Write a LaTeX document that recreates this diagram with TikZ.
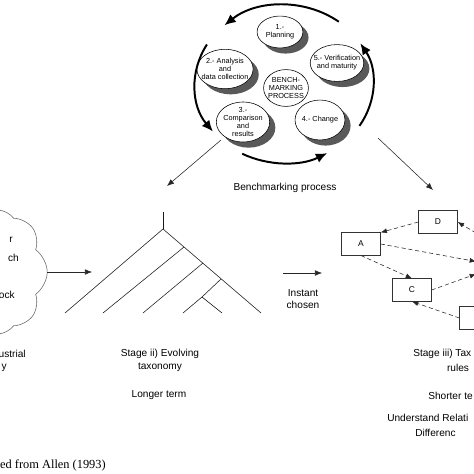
\documentclass[tikz,border=0pt]{standalone}
\usepackage{fontspec}
\setmainfont{Liberation Sans}
\newfontfamily\citefont{Liberation Serif}
\usetikzlibrary{shapes.geometric,shapes.symbols,arrows.meta,shadows}

\begin{document}
\begin{tikzpicture}[x=0.025cm,y=0.025cm,
        stage/.style={draw,ellipse,fill=white,inner sep=-3pt,align=center,font=\fontsize{5.2}{5.8}\selectfont,
            drop shadow={shadow xshift=4pt,shadow yshift=-4pt,fill=black!65,opacity=1}},
        core/.style={draw,ellipse,fill=white,inner sep=-3pt,align=center,font=\fontsize{5.2}{5.8}\selectfont},
        box/.style={draw=black!80,rectangle,minimum width=27.5pt,minimum height=16pt,inner sep=0pt,font=\fontsize{6}{7}\selectfont},
        lbl/.style={font=\fontsize{7.2}{9}\selectfont,align=center,inner sep=0pt},
        link/.style={-{Latex[length=4.5pt,width=3.5pt]},densely dashed,black!85},
        flow/.style={-{Latex[length=5pt,width=4pt]},black!85},
        cycle/.style={line width=1.4pt,-{Latex[length=8pt,width=7pt]}}]
        \useasboundingbox(0,0)rectangle(474,-474);
        \node(planning)at(280,-32)[stage,minimum width=32.6pt,minimum height=22.7pt]{1.-\\Planning};
        \node(analysis)at(225,-69)[stage,minimum width=40pt,minimum height=28pt]{2.- Analysis\\and\\data collection};
        \node(verification)at(337,-63)[stage,minimum width=37.5pt,minimum height=26.2pt]{5.- Verification\\and maturity};
        \node(comparison)at(243,-122)[stage,minimum width=38pt,minimum height=28.5pt]{3.-\\Comparison\\and\\results};
        \node(change)at(320,-120)[stage,minimum width=35.5pt,minimum height=28.4pt]{4.- Change};
        \node(bench)at(286,-88)[core,minimum width=31.9pt,minimum height=26.2pt]{BENCH-\\MARKING\\PROCESS};
        \coordinate(ring)at(284,-84);
        \draw[cycle](ring)++(52:89 and 79)arc[start angle=52,end angle=132,x radius=89,y radius=79];
        \draw[cycle](ring)++(150:89 and 79)arc[start angle=150,end angle=217,x radius=89,y radius=79];
        \draw[cycle](ring)++(242:89 and 79)arc[start angle=242,end angle=299,x radius=89,y radius=79];
        \draw[cycle](ring)++(328:89 and 79)arc[start angle=328,end angle=391,x radius=89,y radius=79];
        \node(benchlabel)at(285,-188)[lbl]{Benchmarking process};
        \coordinate(ringsw)at(221,-140);
        \coordinate(ringse)at(378,-138);
        \coordinate(stagetwo)at(167,-186);
        \coordinate(stagethree)at(433,-190);
        \draw[flow](ringsw)--(stagetwo);
        \draw[flow](ringse)--(stagethree);
        \node(cloud)at(-2,-272)[cloud,draw=black!60,cloud puffs=8,cloud puff arc=110,minimum width=70pt,minimum height=88pt]{};
        \node(cloudr)at(13,-240)[lbl,anchor=east]{r};
        \node(cloudch)at(19,-258)[lbl,anchor=east]{ch};
        \node(cloudock)at(15,-295)[lbl,anchor=east]{ock};
        \node(industrial)at(26,-354)[lbl,anchor=east]{ustrial};
        \node(economy)at(7,-368)[lbl,anchor=east]{y};
        \coordinate(treein)at(92,-272);
        \draw[flow](cloud.east)--(treein);
        \coordinate(root)at(163,-212);
        \coordinate(apex)at(163,-229);
        \coordinate(fork)at(202,-297);
        \draw[black!90](root)--(apex);
        \draw[black!90](65,-313)--(apex)--(261,-313);
        \draw[black!90](184,-247)--(103,-313);
        \draw[black!90](203,-263)--(143,-313);
        \draw[black!90](221,-279)--(fork);
        \draw[black!90](183,-313)--(fork)--(222,-313);
        \node(evolving)at(160,-360.5)[lbl]{Stage ii) Evolving\\taxonomy};
        \node(longer)at(159,-395)[lbl]{Longer term};
        \coordinate(instantl)at(283,-273);
        \coordinate(instantr)at(322,-273);
        \draw[flow](instantl)--(instantr);
        \node(instant)at(303,-299)[lbl]{Instant\\chosen};
        \node(boxd)at(438,-222)[box]{D};
        \node(boxa)at(361,-244)[box]{A};
        \node(boxc)at(412,-290)[box]{C};
        \node(boxe)at(479,-318)[box]{};
        \coordinate(offone)at(476,-233);
        \coordinate(offtwo)at(476,-261.5);
        \coordinate(offthree)at(476,-274);
        \draw[link](boxd.west)--(boxa.north east);
        \draw[link](boxa.east)--(offtwo);
        \draw[link](boxa.south)--(boxc.north);
        \draw[link](boxc.east)--(offthree);
        \draw[link](boxe.west)--(boxc.south);
        \draw[link](offone)--(boxd.east);
        \node(taxo)at(413,-354)[lbl,anchor=west]{Stage iii) Tax};
        \node(rules)at(458,-368)[lbl]{rules};
        \node(shorter)at(428,-396)[lbl,anchor=west]{Shorter te};
        \node(understand)at(387,-418)[lbl,anchor=west]{Understand Relati};
        \node(difference)at(415,-433)[lbl,anchor=west]{Differenc};
        \node(source)at(106,-465)[anchor=east,inner sep=0pt,font=\citefont\fontsize{8.8}{10}\selectfont]{ed from Allen (1993)};
    \end{tikzpicture}
\end{document}
